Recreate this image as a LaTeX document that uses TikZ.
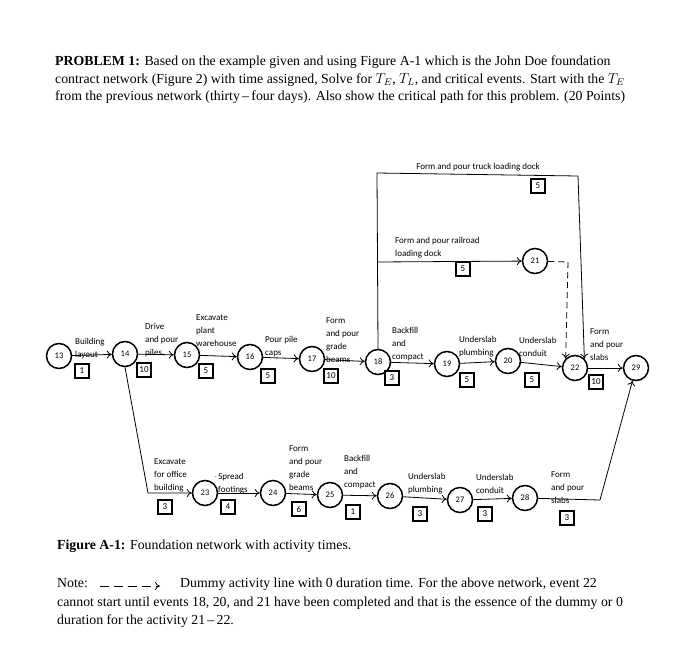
\documentclass[tikz,border=0pt]{standalone}
\usepackage{fontspec}
\setmainfont{Liberation Serif}
\newfontfamily\lab{Carlito}
\usetikzlibrary{arrows.meta}
\begin{document}
\begin{tikzpicture}[x=1pt,y=-1pt,
  ev/.style={circle,draw,line width=1.5pt,minimum size=25pt,inner sep=0pt,font=\lab\fontsize{8.5}{9}\selectfont},
  dur/.style={draw,line width=1.4pt,minimum size=14pt,inner sep=0pt,font=\lab\fontsize{9}{9}\selectfont},
  lbl/.style={anchor=south west,align=left,inner sep=0pt,font=\lab\fontsize{9}{13}\selectfont},
  act/.style={draw,line width=0.8pt,-{To[length=5pt,width=8pt]}},
  txt/.style={anchor=north west,inner sep=0pt,font=\fontsize{13.8}{17.5}\selectfont,align=left}]
\useasboundingbox (0,0) rectangle (700,666);
% heading
\node[txt] (head) at (55,56) {\textbf{PROBLEM 1:} Based on the example given and using Figure A-1 which is the John Doe foundation\\
contract network (Figure 2) with time assigned, Solve for $T_E$, $T_L$, and critical events. Start with the $T_E$\\
from the previous network (thirty\,--\,four days). Also show the critical path for this problem. (20 Points)};
% events
\node[ev] (n13) at (59,356) {13};
\node[ev] (n14) at (125,354) {14};
\node[ev] (n15) at (187,355) {15};
\node[ev] (n16) at (250,357) {16};
\node[ev] (n17) at (312,359) {17};
\node[ev] (n18) at (378,362) {18};
\node[ev] (n19) at (447,364) {19};
\node[ev] (n20) at (508,361) {20};
\node[ev] (n21) at (535,261) {21};
\node[ev] (n22) at (575,368) {22};
\node[ev] (n29) at (636,368) {29};
\node[ev] (n23) at (205,493) {23};
\node[ev] (n24) at (273,493) {24};
\node[ev] (n25) at (330,495) {25};
\node[ev] (n26) at (390,496) {26};
\node[ev] (n27) at (460,500) {27};
\node[ev] (n28) at (525,498) {28};
\coordinate (c14) at (148,493);
\coordinate (c28) at (600,500);
\coordinate (t1) at (377,173);
\coordinate (t2) at (578,176);
\coordinate (r1) at (377,262);
\coordinate (d1) at (568,262);
% activities
\draw[act] (n13) -- (n14);
\draw[act] (n14) -- (n15);
\draw[act] (n15) -- (n16);
\draw[act] (n16) -- (n17);
\draw[act] (n17) -- (n18);
\draw[act] (n18) -- (n19);
\draw[act] (n19) -- (n20);
\draw[act] (n20) -- (n22);
\draw[act] (n22) -- (n29);
\draw[act] (n14.south) -- (c14) -- (n23);
\draw[act] (n23) -- (n24);
\draw[act] (n24) -- (n25);
\draw[act] (n25) -- (n26);
\draw[act] (n26) -- (n27);
\draw[act] (n27) -- (n28);
\draw[act] (n28) -- (c28) -- (n29);
\draw[act] (n18.north) -- (t1) -- (t2) -- (n22.north east);
\draw[act] (r1) -- (n21);
\draw[act,dash pattern=on 6pt off 4pt] (n21) -- (d1) -- (n22.north west);
% durations
\node[dur] (b1) at (82,371) {1};
\node[dur] (b2) at (144,370) {10};
\node[dur] (b3) at (206,371) {5};
\node[dur] (b4) at (268,376) {5};
\node[dur] (b5) at (331,376) {10};
\node[dur] (b6) at (392,378) {3};
\node[dur] (b7) at (467,380) {5};
\node[dur] (b8) at (532,380) {5};
\node[dur] (b9) at (596,382) {10};
\node[dur] (b10) at (538,186) {5};
\node[dur] (b11) at (463,269) {5};
\node[dur] (b12) at (165,507) {3};
\node[dur] (b13) at (228,507) {4};
\node[dur] (b14) at (299,509) {6};
\node[dur] (b15) at (353,512) {1};
\node[dur] (b16) at (420,514) {3};
\node[dur] (b17) at (485,514) {3};
\node[dur] (b18) at (567,518) {3};
% labels
\node[lbl] (l1) at (75,359) {Building\\layout};
\node[lbl] (l2) at (145,357) {Drive\\and pour\\piles};
\node[lbl] (l3) at (196,347) {Excavate\\plant\\warehouse};
\node[lbl] (l4) at (265,357) {Pour pile\\caps};
\node[lbl] (l5) at (326,363) {Form\\and pour\\grade\\beams};
\node[lbl] (l6) at (392,361) {Backfill\\and\\compact};
\node[lbl] (l7) at (459,357) {Underslab\\plumbing};
\node[lbl] (l8) at (519,357) {Underslab\\conduit};
\node[lbl] (l9) at (590,361) {Form\\and pour\\slabs};
\node[lbl,anchor=south] (l10) at (478,171) {Form and pour truck loading dock};
\node[lbl] (l11) at (395,258) {Form and pour railroad\\loading dock};
\node[lbl] (l12) at (154,492) {Excavate\\for office\\building};
\node[lbl] (l13) at (214,494) {$\cdot$\,Spread\\\hspace*{4pt}footings};
\node[lbl] (l14) at (289,491) {Form\\and pour\\grade\\beams};
\node[lbl] (l15) at (344,489) {Backfill\\and\\compact};
\node[lbl] (l16) at (408,494) {Underslab\\plumbing};
\node[lbl] (l17) at (476,494) {Underslab\\conduit};
\node[lbl] (l18) at (551,504) {Form\\and pour\\slabs};
% caption and note
\node[txt] (cap) at (57,540) {\textbf{Figure A-1:} Foundation network with activity times.};
\node[txt] (note1) at (57,578) {Note:};
\coordinate (na) at (100,586);
\coordinate (nb) at (160,586);
\draw[line width=0.8pt,dash pattern=on 9pt off 5pt,-{To[length=5pt,width=8pt]}] (na) -- (nb);
\node[txt] (note2) at (180,578) {Dummy activity line with 0 duration time. For the above network, event 22};
\node[txt] (note3) at (57,597) {cannot start until events 18, 20, and 21 have been completed and that is the essence of the dummy or 0\\duration for the activity 21\,--\,22.};
\end{tikzpicture}
\end{document}
